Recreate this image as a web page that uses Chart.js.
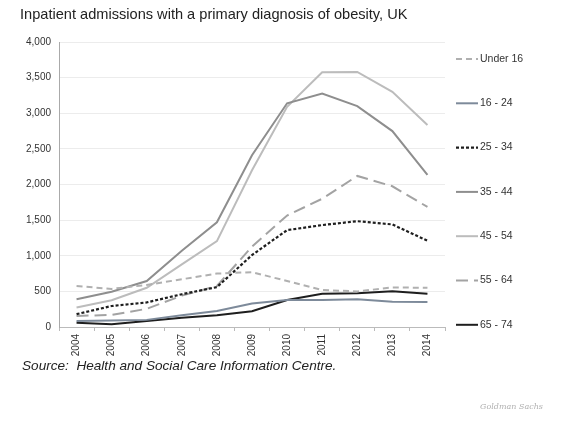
<!DOCTYPE html>
<html>
<head>
<meta charset="utf-8">
<script src="https://cdn.jsdelivr.net/npm/chart.js@4.4.1/dist/chart.umd.min.js"></script>
<style>
  html, body { margin: 0; padding: 0; background: #fff; }
  #wrap { position: relative; width: 564px; height: 423px; overflow: hidden; }
  #chart { position: absolute; left: 0; top: 0; }
  .title { position: absolute; left: 20px; top: 6px; font: 14.6px "Liberation Sans", Arial, sans-serif; color: #222; white-space: nowrap; }
  .source { position: absolute; left: 22px; top: 358px; font: italic 13.6px "Liberation Sans", Arial, sans-serif; color: #222; white-space: nowrap; }
  .gs { position: absolute; left: 480px; top: 402px; font: italic 8px "DejaVu Serif", Georgia, serif; color: #b0b0b0; white-space: nowrap; }
</style>
</head>
<body>
<div id="wrap">
  <canvas id="chart" width="564" height="423"></canvas>
  <div class="title">Inpatient admissions with a primary diagnosis of obesity, UK</div>
  <div class="source">Source:&nbsp; Health and Social Care Information Centre.</div>
  <div class="gs">Goldman Sachs</div>
</div>
<script>
var years = ["2004", "2005", "2006", "2007", "2008", "2009", "2010", "2011", "2012", "2013", "2014"];
var under16 = [575, 535, 590, 670, 750, 770, 645, 520, 500, 555, 550];
var age16_24 = [85, 90, 100, 165, 225, 330, 380, 380, 390, 355, 350];
var age25_34 = [180, 295, 345, 460, 560, 1010, 1360, 1430, 1485, 1440, 1210];
var age35_44 = [390, 495, 645, 1070, 1470, 2410, 3140, 3275, 3100, 2750, 2135];
var age45_54 = [275, 375, 550, 880, 1205, 2200, 3090, 3575, 3580, 3300, 2835];
var age55_64 = [155, 170, 255, 440, 575, 1130, 1565, 1800, 2120, 1975, 1685];
var age65_74 = [60, 40, 85, 130, 165, 220, 380, 465, 472, 500, 465];
var yTicks = [0, 500, 1000, 1500, 2000, 2500, 3000, 3500, 4000];

function line(label, data, color, width, dash) {
  return {
    label: label,
    data: data,
    borderColor: color,
    backgroundColor: color,
    borderWidth: width,
    borderDash: dash,
    pointRadius: 0,
    tension: 0,
    fill: false
  };
}

// legend drawn at the right, evenly spaced like the original
var sideLegend = {
  id: 'sideLegend',
  afterDraw: function (chart) {
    var ctx = chart.ctx;
    var sets = chart.data.datasets;
    ctx.save();
    ctx.font = '10.5px "Liberation Sans", Arial, sans-serif';
    ctx.fillStyle = '#333';
    ctx.textBaseline = 'middle';
    for (var i = 0; i < sets.length; i++) {
      var y = 59 + i * 44.3;
      ctx.beginPath();
      ctx.strokeStyle = sets[i].borderColor;
      ctx.lineWidth = sets[i].borderWidth;
      ctx.setLineDash(sets[i].borderDash || []);
      ctx.moveTo(456, y);
      ctx.lineTo(478, y);
      ctx.stroke();
      ctx.fillText(sets[i].label, 480, y);
    }
    ctx.restore();
  }
};

var ctx = document.getElementById("chart");
var myChart = new Chart(ctx, {
  type: 'line',
  plugins: [sideLegend],
  data: {
    labels: years,
    datasets: [
      line("Under 16", under16, "#b0b0b0", 2, [6, 4]),
      line("16 - 24", age16_24, "#7d8a9a", 2, []),
      line("25 - 34", age25_34, "#1e1e1e", 2.2, [3, 2]),
      line("35 - 44", age35_44, "#8e8e8e", 2, []),
      line("45 - 54", age45_54, "#bcbcbc", 2, []),
      line("55 - 64", age55_64, "#a3a3a3", 2, [12, 6]),
      line("65 - 74", age65_74, "#1e1e1e", 2, [])
    ]
  },
  options: {
    responsive: false,
    animation: false,
    events: [],
    layout: {
      padding: { left: 0, top: 42, right: 119, bottom: 46 }
    },
    plugins: {
      legend: { display: false },
      title: { display: false },
      tooltip: { enabled: false }
    },
    scales: {
      x: {
        offset: true,
        grid: {
          drawOnChartArea: false,
          drawTicks: true,
          tickLength: 4,
          offset: true,
          color: '#bbb'
        },
        border: { color: '#bbb' },
        ticks: {
          minRotation: 90,
          maxRotation: 90,
          padding: 3,
          color: '#333',
          font: { family: '"Liberation Sans", Arial, sans-serif', size: 10 }
        },
        afterFit: function (scale) { scale.height = 50; }
      },
      y: {
        min: 0,
        max: 4000,
        afterBuildTicks: function (scale) {
          scale.ticks = yTicks.map(function (v) { return { value: v }; });
        },
        grid: {
          color: '#ececec',
          drawTicks: false
        },
        border: { color: '#aaa' },
        ticks: {
          padding: 8,
          color: '#333',
          font: { family: '"Liberation Sans", Arial, sans-serif', size: 10 },
          callback: function (v) { return v.toLocaleString('en-US'); }
        },
        afterFit: function (scale) { scale.width = 59; }
      }
    }
  }
});
</script>
</body>
</html>
